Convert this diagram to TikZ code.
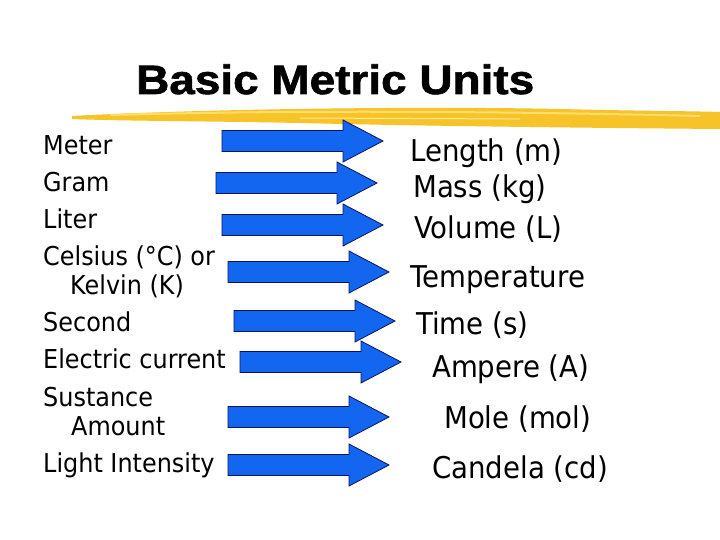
\documentclass[tikz,border=0pt]{standalone}
\usepackage{fontspec}
\setmainfont{DejaVu Sans}[FakeStretch=0.92]
\newfontfamily\titlefont{Liberation Sans}[FakeStretch=1.12,BoldFeatures={FakeBold=1.5}]
\usetikzlibrary{positioning}
\definecolor{arrowblue}{RGB}{18,102,240}
\definecolor{arrowedge}{RGB}{10,20,90}
\definecolor{brushgold}{RGB}{246,196,40}
\definecolor{brushlight}{RGB}{252,222,110}
\tikzset{
  lefttext/.style={anchor=base west,inner sep=0pt,font=\fontsize{26}{28}\selectfont},
  righttext/.style={anchor=base west,inner sep=0pt,font=\fontsize{30}{32}\selectfont},
  blockarrow/.pic={
    \draw[fill=arrowblue,draw=arrowedge,line width=0.8pt,line join=miter]
      (0,-10.5) -- (121,-10.5) -- (121,-21) -- (161,0) -- (121,21) -- (121,10.5) -- (0,10.5) -- cycle;
  }
}

\begin{document}
\begin{tikzpicture}[x=1pt,y=-1pt]
        \fill[white] (0,0) rectangle (720,540);
        \useasboundingbox (0,0) rectangle (720,540);
        % Title
        \node[anchor=base west,inner sep=0pt,font=\titlefont\bfseries\fontsize{41}{44}\selectfont] (title) at (136,94) {Basic Metric Units};
        % Brush stroke
        \fill[brushgold] (72,116) .. controls (200,109) and (420,106) .. (560,109)
              .. controls (640,111) and (690,111) .. (720,112) -- (720,129)
              .. controls (600,128) and (420,126) .. (300,123)
              .. controls (200,121) and (120,121) .. (72,119) -- cycle;
        \draw[brushlight,line width=2pt] (110,115) .. controls (250,111) and (450,110) .. (700,116);
        \draw[brushlight!70!white,line width=1pt] (300,118) -- (520,119);
        % Arrows
        \pic at (222,141) {blockarrow};
        \pic at (216,183) {blockarrow};
        \pic at (222,225) {blockarrow};
        \pic at (228,272) {blockarrow};
        \pic at (234,321) {blockarrow};
        \pic at (240,362) {blockarrow};
        \pic at (228,417) {blockarrow};
        \pic at (228,465) {blockarrow};
        % Base units
        \node[lefttext] (meter) at (43,155) {Meter};
        \node[lefttext] (gram) at (43,192) {Gram};
        \node[lefttext] (liter) at (43,229) {Liter};
        \node[lefttext] (celsius) at (43,265) {Celsius (°C) or};
        \node[lefttext] (kelvin) at (70,294) {Kelvin (K)};
        \node[lefttext] (second) at (43,331) {Second};
        \node[lefttext] (current) at (43,368) {Electric current};
        \node[lefttext] (sustance) at (43,406) {Sustance};
        \node[lefttext] (amount) at (71,435) {Amount};
        \node[lefttext] (light) at (43,472) {Light Intensity};
        % Quantities
        \node[righttext] (length) at (410,162) {Length (m)};
        \node[righttext] (mass) at (413,197) {Mass (kg)};
        \node[righttext] (volume) at (414,239) {Volume (L)};
        \node[righttext] (temp) at (410,287) {Temperature};
        \node[righttext] (time) at (416,334) {Time (s)};
        \node[righttext] (ampere) at (432,377) {Ampere (A)};
        \node[righttext] (mole) at (444,428) {Mole (mol)};
        \node[righttext] (candela) at (432,478) {Candela (cd)};
    \end{tikzpicture}
\end{document}
